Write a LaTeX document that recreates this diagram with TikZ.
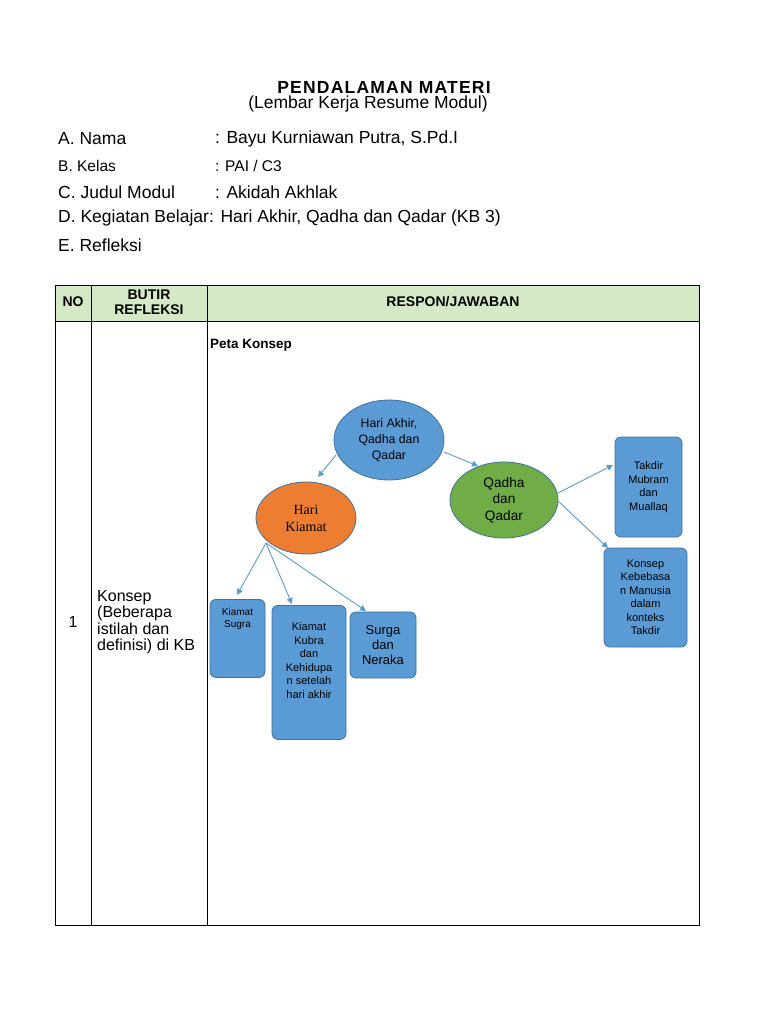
\documentclass[tikz,border=0pt]{standalone}
\usepackage{fontspec}
\setmainfont{Liberation Sans}
\newfontfamily\serif{Liberation Serif}
\newfontfamily\spaced[LetterSpace=7]{Liberation Sans}
\usetikzlibrary{shapes.geometric,arrows.meta}
\definecolor{boxblue}{HTML}{5B9BD5}
\definecolor{edgeblue}{HTML}{41719C}
\definecolor{orng}{HTML}{ED7D31}
\definecolor{grn}{HTML}{70AD47}
\definecolor{hdr}{HTML}{D6E9C6}
\tikzset{
 lbl/.style={anchor=west,inner sep=0pt,font=\fontsize{17.5}{20}\selectfont},
 ell/.style={ellipse,draw=edgeblue,line width=0.8pt,fill=boxblue,align=center,inner sep=0pt},
 rbox/.style={rectangle,rounded corners=6pt,draw=edgeblue,line width=0.8pt,fill=boxblue,align=center,inner sep=0pt,font=\fontsize{11}{13.5}\selectfont},
 arr/.style={-{Triangle[width=6pt,length=6pt]},draw=boxblue,line width=0.9pt},
 th/.style={font=\bfseries\fontsize{14}{15}\selectfont,align=center}
}
\begin{document}
\begin{tikzpicture}[x=1pt,y=-1pt]
\useasboundingbox (0,0) rectangle (768,1024);
\fill[white] (0,0) rectangle (768,1024);
\node[font=\spaced\bfseries\fontsize{17.5}{20}\selectfont] (title) at (384,87) {PENDALAMAN MATERI};
\node[font=\fontsize{17.5}{20}\selectfont] (sub2) at (368,85) {\phantom{x}};
\node[font=\fontsize{17.5}{20}\selectfont] (sub) at (368,104) {(Lembar Kerja Resume Modul)};
\node[lbl] (a1) at (58,139) {A. Nama};
\node[lbl] (a2) at (215,139) {: Bayu Kurniawan Putra, S.Pd.I};
\node[lbl,font=\fontsize{15.5}{18}\selectfont] (b1) at (58,166) {B. Kelas};
\node[lbl,font=\fontsize{15.5}{18}\selectfont] (b2) at (215,166) {: PAI / C3};
\node[lbl] (c1) at (58,192) {C. Judul Modul};
\node[lbl] (c2) at (215,192) {: Akidah Akhlak};
\node[lbl] (d1) at (58,218) {D. Kegiatan Belajar};
\node[lbl] (d2) at (209,218) {: Hari Akhir, Qadha dan Qadar (KB 3)};
\node[lbl] (e1) at (58,245) {E. Refleksi};
% table
\fill[hdr] (55,285) rectangle (699,321);
\draw[line width=0.6pt] (55,285) rectangle (699,925);
\draw[line width=0.6pt] (55,321) -- (699,321);
\draw[line width=0.6pt] (91,285) -- (91,925);
\draw[line width=0.6pt] (207,285) -- (207,925);
\node[th] (hno) at (73,302) {NO};
\node[th] (hbut) at (149,302) {BUTIR\\REFLEKSI};
\node[th] (hres) at (453,302) {RESPON/JAWABAN};
\node[font=\fontsize{16}{18}\selectfont] (no1) at (73,622) {1};
\node[anchor=north west,align=left,inner sep=0pt,font=\fontsize{16}{16.5}\selectfont] (kons) at (97,590) {Konsep\\(Beberapa\\istilah dan\\definisi) di KB};
\node[anchor=west,inner sep=0pt,font=\bfseries\fontsize{13.5}{15}\selectfont] (peta) at (210,345) {Peta Konsep};
% concept map
\node[ell,minimum width=110pt,minimum height=80pt,font=\fontsize{12.3}{16}\selectfont] (top) at (389,440) {Hari Akhir,\\Qadha dan\\Qadar};
\node[ell,fill=orng,minimum width=100pt,minimum height=72pt,font=\serif\fontsize{14}{17}\selectfont] (hk) at (306,518) {Hari\\Kiamat};
\node[ell,fill=grn,minimum width=108pt,minimum height=76pt,font=\fontsize{13.7}{16.5}\selectfont] (qq) at (504,500) {Qadha\\dan\\Qadar};
\node[rbox,minimum width=67pt,minimum height=100pt] (tm) at (648.5,487) {Takdir\\Mubram\\dan\\Muallaq};
\node[rbox,minimum width=83pt,minimum height=99pt] (kk) at (645.5,597.5) {Konsep\\Kebebasa\\n Manusia\\dalam\\konteks\\Takdir};
\node[rbox,minimum width=55pt,minimum height=78pt,anchor=north,font=\fontsize{10}{11.5}\selectfont] (ks) at (237.5,599) {\rule{0pt}{16pt}Kiamat\\Sugra\\[38pt]\mbox{}};
\node[rbox,minimum width=74pt,minimum height=134pt,anchor=north] (kb) at (309,605) {\rule{0pt}{22pt}Kiamat\\Kubra\\dan\\Kehidupa\\n setelah\\hari akhir\\[24pt]\mbox{}};
\node[rbox,minimum width=66pt,minimum height=66pt,font=\fontsize{13}{15}\selectfont] (sn) at (383,645) {Surga\\dan\\Neraka};
\coordinate (t1) at (336,455);
\coordinate (t2) at (318,477);
\draw[arr] (t1) -- (t2);
\coordinate (t3) at (444,452);
\coordinate (t4) at (478,466);
\draw[arr] (t3) -- (t4);
\coordinate (q1) at (558,493);
\coordinate (q2) at (613,465);
\draw[arr] (q1) -- (q2);
\coordinate (q3) at (558,501);
\coordinate (q4) at (608,548);
\draw[arr] (q3) -- (q4);
\coordinate (h1) at (266,543);
\draw[arr] (h1) -- (237,595);
\draw[arr] (h1) -- (292,604);
\draw[arr] (h1) -- (366,611);
\end{tikzpicture}
\end{document}
